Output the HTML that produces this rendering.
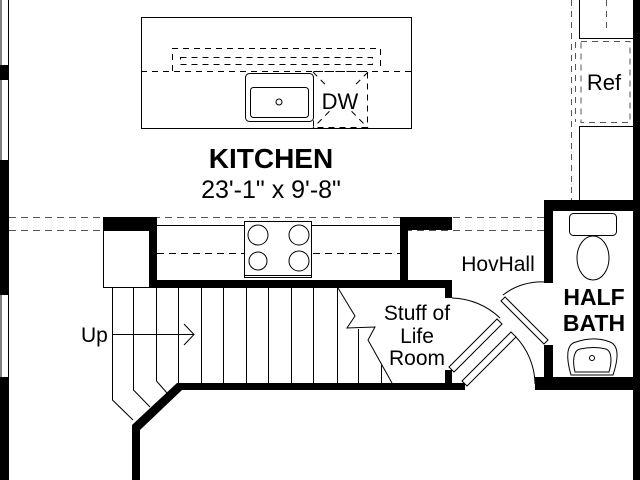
<!DOCTYPE html>
<html><head><meta charset="utf-8"><style>html,body{margin:0;padding:0;background:#fff}svg{display:block}</style></head>
<body>
<svg width="640" height="480" viewBox="0 0 640 480" xmlns="http://www.w3.org/2000/svg" font-family="Liberation Sans, sans-serif">
<rect width="640" height="480" fill="#fff"/>
<line x1="1" y1="0" x2="1" y2="480" stroke="#000" stroke-width="1"/>
<line x1="8.5" y1="0" x2="8.5" y2="480" stroke="#000" stroke-width="1"/>
<rect x="0" y="65" width="9" height="15" fill="#000"/>
<rect x="0" y="160" width="9" height="135" fill="#000"/>
<rect x="0" y="377" width="9" height="103" fill="#000"/>
<rect x="633" y="0" width="7" height="480" fill="#000"/>
<g stroke="#000" fill="none" stroke-width="1">
<line x1="579.5" y1="0" x2="579.5" y2="38"/>
<line x1="579" y1="38.5" x2="633" y2="38.5"/>
<line x1="579.5" y1="126" x2="579.5" y2="200"/>
<line x1="579" y1="126.5" x2="633" y2="126.5"/>
</g>
<g stroke="#555" fill="none" stroke-width="1" stroke-dasharray="6,5">
<line x1="571.5" y1="0" x2="571.5" y2="200"/>
<line x1="606.5" y1="0" x2="606.5" y2="32"/>
<rect x="581" y="41.5" width="49" height="81"/>
<line x1="575.5" y1="42" x2="575.5" y2="122"/>
</g>
<text x="604" y="90" font-size="22" text-anchor="middle">Ref</text>
<rect x="141.5" y="17.5" width="270" height="111" fill="none" stroke="#000"/>
<g stroke="#000" fill="none" stroke-width="1" stroke-dasharray="6,5">
<line x1="141" y1="71.5" x2="412" y2="71.5"/>
<polyline points="172.5,71 172.5,48.5 380.5,48.5 380.5,71"/>
<rect x="180.5" y="57.5" width="192" height="7"/>
<rect x="313.5" y="71.5" width="54" height="56"/>
<line x1="313" y1="72" x2="368" y2="128"/>
<line x1="368" y1="72" x2="313" y2="128"/>
</g>
<rect x="320" y="87" width="42" height="24" fill="#fff"/>
<rect x="245.5" y="73.5" width="68" height="48" rx="4" fill="#fff" stroke="#000"/>
<rect x="250.5" y="87.5" width="58" height="30" rx="3" fill="none" stroke="#000"/>
<circle cx="279" cy="102" r="3" fill="none" stroke="#000"/>
<text x="340" y="109" font-size="22" text-anchor="middle">DW</text>
<text x="271" y="168" font-size="28" font-weight="bold" text-anchor="middle">KITCHEN</text>
<text x="271" y="198" font-size="25" text-anchor="middle">23'-1" x 9'-8"</text>
<g stroke="#555" stroke-width="1" stroke-dasharray="7,5">
<line x1="9" y1="217.5" x2="545" y2="217.5"/>
<line x1="9" y1="230.5" x2="545" y2="230.5"/>
</g>
<rect x="103.5" y="230.5" width="46" height="57" fill="#fff" stroke="#000"/>
<rect x="157" y="225" width="243" height="55" fill="#fff"/>
<line x1="157" y1="225.5" x2="400" y2="225.5" stroke="#000"/>
<line x1="157" y1="253.5" x2="400" y2="253.5" stroke="#000" stroke-dasharray="7,5"/>
<rect x="244.5" y="221.5" width="67" height="56" fill="#fff" stroke="#000"/>
<line x1="244" y1="275.5" x2="312" y2="275.5" stroke="#000"/>
<g fill="none" stroke="#000">
<circle cx="258" cy="235" r="10"/><circle cx="299" cy="235" r="10"/>
<circle cx="258" cy="261" r="9"/><circle cx="299" cy="261" r="10"/>
</g>
<g fill="#000">
<rect x="103" y="217" width="54" height="13"/>
<rect x="149" y="217" width="8" height="70"/>
<rect x="149" y="280" width="303" height="8"/>
<rect x="400" y="217" width="52" height="13"/>
<rect x="400" y="217" width="8" height="70"/>
<rect x="445" y="280" width="7" height="18"/>
<rect x="445" y="370" width="7" height="14"/>
<rect x="177" y="383" width="288" height="7"/>
<rect x="535" y="377" width="105" height="13"/>
<rect x="544" y="200" width="96" height="11"/>
<rect x="544" y="200" width="9" height="83"/>
<rect x="544" y="345" width="9" height="40"/>
<rect x="132" y="425" width="8" height="55"/>
<polygon points="177,383 182,390 140,430 132,425"/>
</g>
<g stroke="#000" stroke-width="1" fill="none">
<polyline points="112.5,288 112.5,400 133,420"/>
<polyline points="133.5,288 133.5,390 150,407"/>
<polyline points="156.5,288 156.5,381 167,393"/>
<line x1="178.5" y1="288" x2="178.5" y2="383"/>
<line x1="201.5" y1="288" x2="201.5" y2="383"/>
<line x1="223.5" y1="288" x2="223.5" y2="383"/>
<line x1="246.5" y1="288" x2="246.5" y2="383"/>
<line x1="268.5" y1="288" x2="268.5" y2="383"/>
<line x1="291.5" y1="288" x2="291.5" y2="383"/>
<line x1="313.5" y1="288" x2="313.5" y2="383"/>
<line x1="337.5" y1="288" x2="337.5" y2="383"/>
<line x1="358.5" y1="329" x2="358.5" y2="383"/>
<line x1="381.5" y1="365" x2="381.5" y2="383"/>
<polyline points="338,288 355,316 347,328 375,327 368,340 392,383"/>
<line x1="113" y1="334.5" x2="194" y2="334.5"/>
<polyline points="184,324 194,334.5 184,345"/>
</g>
<text x="81" y="342" font-size="21">Up</text>
<g stroke="#000" stroke-width="1" fill="#fff">
<path d="M452,298 A72,72 0 0 1 500,318" fill="none"/>
<polygon points="449,367 497,319 502,324 454,372"/>
<path d="M515,336 A70,70 0 0 1 535,384" fill="none"/>
<polygon points="462,381 511,332 516,337 467,386"/>
<path d="M503,295 A62,62 0 0 1 545,282" fill="none"/>
<polygon points="505,297 548,340 544,344 501,301"/>
</g>
<text x="417" y="320" font-size="21" text-anchor="middle">Stuff of</text>
<text x="417" y="343" font-size="21" text-anchor="middle">Life</text>
<text x="417" y="365" font-size="21" text-anchor="middle">Room</text>
<text x="498" y="271" font-size="21" text-anchor="middle">HovHall</text>
<rect x="569.5" y="213.5" width="47" height="22" rx="4" fill="#fff" stroke="#000"/>
<ellipse cx="593" cy="258" rx="16" ry="22" fill="#fff" stroke="#000"/>
<text x="594" y="305" font-size="23" font-weight="bold" text-anchor="middle">HALF</text>
<text x="594" y="331" font-size="23" font-weight="bold" text-anchor="middle">BATH</text>
<path d="M571,375 C566,358 566,344 576,342 C588,338 600,338 610,342 C620,346 618,360 613,375 Z" fill="#fff" stroke="#000"/>
<path d="M575,372 C572,360 574,350 580,349 C590,347 598,347 606,349 C612,351 612,362 609,372 Z" fill="none" stroke="#000"/>
<circle cx="592" cy="358" r="2.5" fill="none" stroke="#000"/>
</svg>
</body></html>
